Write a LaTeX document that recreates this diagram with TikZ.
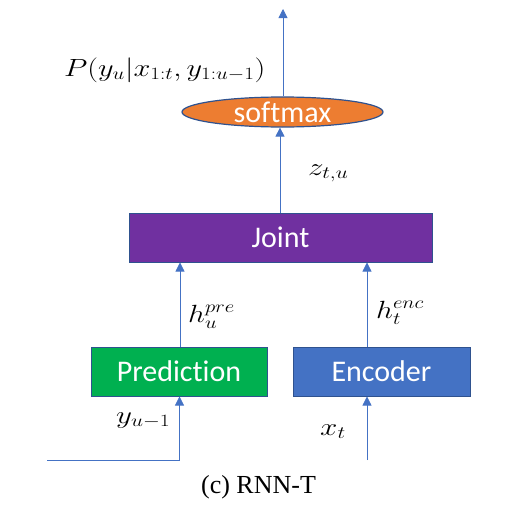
\documentclass[tikz,border=0pt]{standalone}
\usepackage{fontspec}
\setmainfont{Liberation Serif}
\newfontfamily\boxfont[RawFeature={-liga;-clig;-calt}]{Carlito}
\usetikzlibrary{shapes.geometric,arrows.meta}
\definecolor{lineblue}{HTML}{4472C4}
\definecolor{edgeblue}{HTML}{2F528F}
\definecolor{softorange}{HTML}{ED7D31}
\definecolor{jointpurple}{HTML}{7030A0}
\definecolor{predgreen}{HTML}{00B050}
\definecolor{encblue}{HTML}{4472C4}
\newcommand{\wide}[2][1.25]{\scalebox{#1}[1]{#2}}
\tikzset{
  blk/.style={draw=edgeblue, line width=1pt, minimum height=49pt, inner sep=0pt,
    text=white, font=\boxfont\fontsize{30}{36}\selectfont},
  conn/.style={draw=lineblue, line width=0.8pt, -{Triangle[width=9pt,length=9pt]}},
  plain/.style={draw=lineblue, line width=0.8pt},
  mlabel/.style={inner sep=0pt, anchor=base west},
}
\begin{document}
\begin{tikzpicture}[x=1pt,y=-1pt]
\useasboundingbox (0,0) rectangle (506,522);
% nodes
\node[ellipse, draw=edgeblue, line width=1.2pt, fill=softorange, minimum width=201pt, minimum height=30pt,
  inner sep=0pt, text=white, font=\boxfont\fontsize{30}{36}\selectfont] (soft) at (282.5,112) {softmax};
\node[blk, fill=jointpurple, minimum width=303pt] (joint) at (280.5,237.5) {Joint};
\node[blk, fill=predgreen, minimum width=176pt] (pred) at (179,371.5) {Prediction};
\node[blk, fill=encblue, minimum width=177pt] (enc) at (381.5,371.5) {Encoder};
\coordinate (out) at (283,9);
\coordinate (yin) at (47,460);
\coordinate (ycorner) at (179.5,460);
\coordinate (xin) at (367,460);
% connectors
\draw[conn] (soft.north -| out) -- (out);
\draw[conn] (joint.north -| 280,0) -- (soft.south -| 280,0);
\draw[conn] (pred.north -| 180,0) -- (joint.south -| 180,0);
\draw[conn] (enc.north -| 367,0) -- (joint.south -| 367,0);
\draw[plain] (yin) -- (ycorner);
\draw[conn] (ycorner) -- (pred.south -| ycorner);
\draw[conn] (xin) -- (enc.south -| xin);
% labels
\node[mlabel, font=\fontsize{24}{28}\selectfont] (plab) at (64,76) {\wide[1.22]{$P(y_u|x_{1:t},y_{1:u-1})$}};
\node[mlabel, font=\fontsize{26}{30}\selectfont] (zlab) at (308,175) {\wide{$z_{t,u}$}};
\node[mlabel, font=\fontsize{27}{30}\selectfont] (hpre) at (188,322) {\wide[1.2]{$h_u^{pre}$}};
\node[mlabel, font=\fontsize{27}{30}\selectfont] (henc) at (376,318) {\wide[1.2]{$h_t^{enc}$}};
\node[mlabel, font=\fontsize{27}{30}\selectfont] (ylab) at (116,423) {\wide{$y_{u-1}$}};
\node[mlabel, font=\fontsize{25}{30}\selectfont] (xlab) at (320,435) {\wide{$x_t$}};
\node[inner sep=0pt, anchor=base, font=\fontsize{26}{30}\selectfont] (cap) at (258.5,493) {(c) RNN-T};
\end{tikzpicture}
\end{document}
